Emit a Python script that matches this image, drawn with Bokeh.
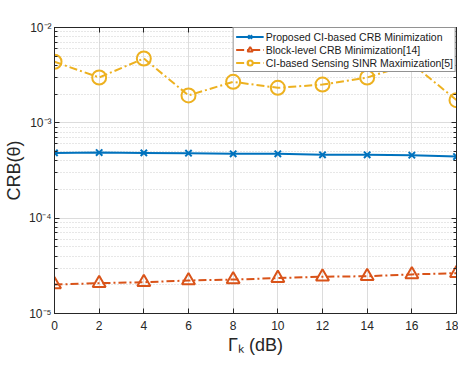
from bokeh.plotting import figure
from bokeh.models import (FixedTicker, LinearAxis, LogAxis, CustomJSTickFormatter,
                          Legend, LegendItem, Range1d)
from bokeh.embed import file_html
from bokeh.resources import INLINE

gamma_db = [0, 2, 4, 6, 8, 10, 12, 14, 16, 18]
crb_proposed = [4.84e-4, 4.88e-4, 4.84e-4, 4.80e-4, 4.73e-4, 4.73e-4, 4.62e-4, 4.62e-4, 4.58e-4, 4.43e-4]
crb_block = [2.01e-5, 2.08e-5, 2.13e-5, 2.22e-5, 2.27e-5, 2.35e-5, 2.43e-5, 2.46e-5, 2.57e-5, 2.65e-5]
crb_sinr = [4.37e-3, 2.99e-3, 4.73e-3, 1.94e-3, 2.69e-3, 2.33e-3, 2.52e-3, 2.99e-3, 4.19e-3, 1.73e-3]
x_ticks = [0, 2, 4, 6, 8, 10, 12, 14, 16, 18]
y_ticks = [1e-5, 1e-4, 1e-3, 1e-2]
names = ["Proposed CI-based CRB Minimization",
         "Block-level CRB Minimization[14]",
         "CI-based Sensing SINR Maximization[5]"]

FONT = "Liberation Sans"
TICK_COLOR = "#262626"

p = figure(width=458, height=360, y_axis_type="log", output_backend="svg",
           toolbar_location=None, x_range=Range1d(0, 18), y_range=Range1d(1e-5, 1e-2),
           min_border_left=45, min_border_right=2, min_border_top=27, min_border_bottom=47)

minor = []
for d in [1e-5, 1e-4, 1e-3]:
    minor += [d * k for k in range(2, 10)]
yt = FixedTicker(ticks=y_ticks, minor_ticks=minor)
xt = FixedTicker(ticks=x_ticks)

fmt = CustomJSTickFormatter(code="""
const sup = {'-':'\u207b','0':'\u2070','1':'\u00b9','2':'\u00b2','3':'\u00b3','4':'\u2074','5':'\u2075','6':'\u2076','7':'\u2077','8':'\u2078','9':'\u2079'};
const e = Math.round(Math.log10(tick)).toString();
let s = '10';
for (const c of e) s += sup[c];
return s;
""")

p.xaxis.ticker = xt
p.yaxis.ticker = yt
p.yaxis.formatter = fmt

for ax in [p.xaxis[0], p.yaxis[0]]:
    ax.major_tick_in = 5
    ax.major_tick_out = 0
    ax.minor_tick_in = 3
    ax.minor_tick_out = 0
    ax.axis_line_color = TICK_COLOR
    ax.major_tick_line_color = TICK_COLOR
    ax.minor_tick_line_color = TICK_COLOR
    ax.major_label_text_font = FONT
    ax.major_label_text_font_size = "12px"
    ax.major_label_text_color = TICK_COLOR
    ax.axis_label_text_font = FONT
    ax.axis_label_text_font_size = "18px"
    ax.axis_label_text_font_style = "normal"
    ax.axis_label_text_color = TICK_COLOR

p.xaxis.minor_tick_line_color = None
p.xaxis.axis_label = "Γₖ (dB)"
p.xaxis.axis_label_standoff = 2
p.xaxis.major_label_standoff = 7
p.yaxis.axis_label = "CRB(θ)"
p.yaxis.axis_label_standoff = 2
p.yaxis.major_label_standoff = 3

# box-style ticks on the top and right edges (no labels)
top = LinearAxis(ticker=xt, major_label_text_color=None, major_tick_in=5, major_tick_out=0,
                 minor_tick_line_color=None, axis_line_color=TICK_COLOR,
                 major_tick_line_color=TICK_COLOR, major_label_standoff=0,
                 major_label_text_font_size="1px")
right = LogAxis(ticker=yt, major_label_text_color=None, major_tick_in=5, major_tick_out=0,
                minor_tick_in=3, minor_tick_out=0, axis_line_color=TICK_COLOR,
                major_tick_line_color=TICK_COLOR, minor_tick_line_color=TICK_COLOR,
                major_label_standoff=0, major_label_text_font_size="1px")
p.add_layout(top, "above")
p.add_layout(right, "right")

p.xgrid.grid_line_color = "#dcdcdc"
p.ygrid.grid_line_color = "#dcdcdc"
p.ygrid.minor_grid_line_color = "#cfcfcf"
p.ygrid.minor_grid_line_dash = "1 2"
p.outline_line_color = TICK_COLOR

blue = "#0072BD"
orange = "#D95319"
yellow = "#EDB120"

l1 = p.line(gamma_db, crb_proposed, line_color=blue, line_width=2)
m1 = p.scatter(gamma_db, crb_proposed, marker="x", size=9, line_color=blue, line_width=2)
l2 = p.line(gamma_db, crb_block, line_color=orange, line_width=2, line_dash="8 3 2 3")
m2 = p.scatter(gamma_db, crb_block, marker="triangle", size=13, line_color=orange,
               fill_color=None, line_width=2)
l3 = p.line(gamma_db, crb_sinr, line_color=yellow, line_width=2, line_dash="8 3 2 3")
m3 = p.scatter(gamma_db, crb_sinr, marker="circle", size=14, line_color=yellow,
               fill_color=None, line_width=2)

legend = Legend(items=[LegendItem(label=names[0], renderers=[l1, m1]),
                       LegendItem(label=names[1], renderers=[l2, m2]),
                       LegendItem(label=names[2], renderers=[l3, m3])],
                location="top_right", label_text_font=FONT, label_text_font_size="10.5px",
                label_text_color="#1a1a1a",
                glyph_width=28, glyph_height=13, label_height=13, spacing=0,
                padding=2, margin=0, label_standoff=2,
                border_line_color=TICK_COLOR, background_fill_alpha=1)
p.add_layout(legend, "center")

open("out.html", "w").write(file_html(p, INLINE))
